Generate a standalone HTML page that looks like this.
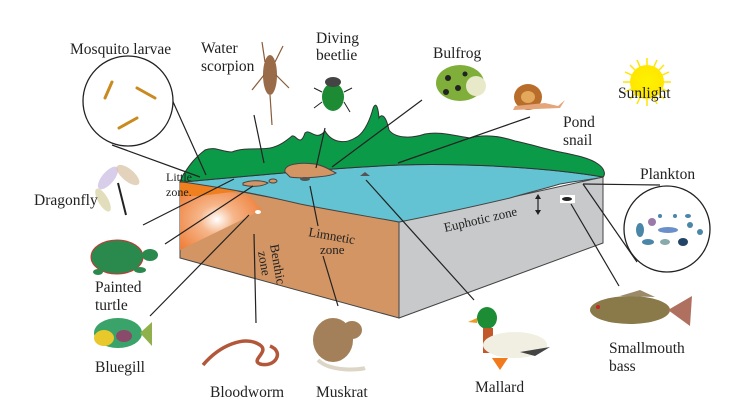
<!DOCTYPE html>
<html><head><meta charset="utf-8"><style>
html,body{margin:0;padding:0;background:#fff;}
svg{display:block;}
text{font-family:"Liberation Serif",serif;fill:#222;}
</style></head><body>
<svg width="734" height="419" viewBox="0 0 734 419" xmlns="http://www.w3.org/2000/svg">
<defs>
<radialGradient id="og" cx="0.45" cy="0.55" r="0.6">
<stop offset="0" stop-color="#fff"/><stop offset="0.35" stop-color="#f6b68a"/><stop offset="1" stop-color="#ef7f3a"/>
</radialGradient>
<radialGradient id="sun" cx="0.5" cy="0.5" r="0.5"><stop offset="0" stop-color="#fff200"/><stop offset="1" stop-color="#ffe600"/></radialGradient>
</defs>

<polygon points="180,180 399,222 399,318 180,258" fill="#d29563" stroke="#444" stroke-width="1"/>
<polygon points="180,182 250,196 262,210 180,250" fill="url(#og)"/>
<polygon points="180,180 240,191 200,196 180,196" fill="#ef7f1f"/>
<polygon points="399,222 603,177 603,243 399,318" fill="#c8c9cb" stroke="#444" stroke-width="1"/>
<path d="M183,182 C250,176 330,168 400,165 C470,163 550,168 603,177 C590,180 575,181 560,184 C540,190 530,192 510,198 C480,205 450,212 399,222 C360,215 330,210 300,204 C270,197 250,192 183,182 Z" fill="#63c3d3" stroke="#444" stroke-width="1"/>
<path d="M180,182 L183,175 C188,168 192,160 205,150 C215,146 222,152 232,152 C245,147 258,150 270,148 C280,146 287,140 292,136 C296,134 300,148 305,133 C310,128 316,142 325,131 C332,143 345,144 355,138 C362,135 368,125 372,112 C375,100 378,105 379,118 C382,113 386,116 389,130 C395,138 410,139 425,134 C440,131 455,136 470,138 C485,134 500,136 515,141 C530,144 545,149 560,152 C575,155 590,158 598,164 C604,168 606,174 603,177 C550,168 470,163 400,165 C330,168 250,176 183,182 Z" fill="#0b9a48" stroke="#333" stroke-width="1"/>
<path d="M285,172 C283,164 300,162 315,164 C325,166 330,170 336,173 C330,177 300,179 290,177 Z" fill="#d29563" stroke="#444"/>
<path d="M243,183 C250,180 262,180 268,183 C262,187 250,187 243,185 Z" fill="#d29563" stroke="#444"/>
<ellipse cx="273" cy="181" rx="4" ry="2" fill="#d29563" stroke="#444"/>
<ellipse cx="305" cy="179" rx="5" ry="2" fill="#555"/>
<path d="M360,176 L365,172 L370,176 Z" fill="#555"/>
<ellipse cx="258" cy="212" rx="3" ry="2" fill="#fff"/>
<rect x="560" y="195" width="15" height="8" fill="#fff"/><ellipse cx="567" cy="199" rx="5" ry="2" fill="#222"/>

<line x1="538" y1="195" x2="538" y2="214" stroke="#222" stroke-width="1.2"/>
<polygon points="535,199 538,194 541,199" fill="#222"/><polygon points="535,210 538,215 541,210" fill="#222"/>

<text x="166" y="181" font-size="12" fill="#333">Little</text>
<text x="166" y="196" font-size="12" fill="#333">zone.</text>
<text x="445" y="232" font-size="13" fill="#333" transform="rotate(-13 445 232)">Euphotic zone</text>
<text x="308" y="236" font-size="13" fill="#333" transform="rotate(10 308 236)">Limnetic</text>
<text x="320" y="254" font-size="13" fill="#333">zone</text>
<text x="270" y="245" font-size="13" fill="#333" transform="rotate(80 270 245)">Benthic</text>
<text x="258" y="252" font-size="13" fill="#333" transform="rotate(80 258 252)">zone</text>

<g stroke="#222" stroke-width="1.2" fill="none">
<line x1="170" y1="95" x2="206" y2="175"/>
<line x1="112" y1="145" x2="200" y2="177"/>
<line x1="254" y1="115" x2="264" y2="163"/>
<line x1="325" y1="128" x2="316" y2="168"/>
<line x1="422" y1="100" x2="332" y2="167"/>
<line x1="530" y1="117" x2="398" y2="163"/>
<line x1="143" y1="225" x2="234" y2="179"/>
<line x1="165" y1="244" x2="253" y2="186"/>
<line x1="150" y1="316" x2="249" y2="215"/>
<line x1="254" y1="234" x2="256" y2="323"/>
<line x1="310" y1="186" x2="318" y2="226"/>
<line x1="323" y1="256" x2="338" y2="306"/>
<line x1="366" y1="180" x2="474" y2="300"/>
<line x1="571" y1="204" x2="619" y2="286"/>
<line x1="583" y1="184" x2="637" y2="262"/>
<line x1="583" y1="184" x2="660" y2="185"/>
</g>

<circle cx="128" cy="101" r="45" fill="#fff" stroke="#222" stroke-width="1.3"/>
<g stroke="#c98a1f" stroke-width="3" stroke-linecap="round">
<line x1="105" y1="98" x2="112" y2="82"/><line x1="137" y1="88" x2="155" y2="98"/><line x1="119" y1="128" x2="137" y2="118"/>
</g>
<circle cx="667" cy="229" r="43" fill="#fff" stroke="#222" stroke-width="1.3"/>
<g fill="#4a86a8">
<ellipse cx="640" cy="230" rx="4" ry="7"/><ellipse cx="652" cy="222" rx="4" ry="4" fill="#9a7aa8"/><ellipse cx="668" cy="230" rx="10" ry="3" fill="#6b8fc9"/>
<ellipse cx="690" cy="225" rx="3" ry="3"/><ellipse cx="700" cy="232" rx="3" ry="3"/><ellipse cx="648" cy="242" rx="6" ry="3"/>
<ellipse cx="665" cy="242" rx="5" ry="3" fill="#8aa"/><ellipse cx="683" cy="242" rx="5" ry="4" fill="#246"/><ellipse cx="660" cy="216" rx="2" ry="2"/><ellipse cx="675" cy="216" rx="2" ry="2"/><ellipse cx="688" cy="216" rx="3" ry="2"/>
</g>

<g stroke="#ffe600" stroke-width="1.5">
<line x1="647" y1="58" x2="647" y2="106"/><line x1="623" y1="82" x2="671" y2="82"/>
<line x1="630" y1="65" x2="664" y2="99"/><line x1="664" y1="65" x2="630" y2="99"/>
<line x1="637" y1="60" x2="657" y2="104"/><line x1="657" y1="60" x2="637" y2="104"/>
<line x1="625" y1="72" x2="669" y2="92"/><line x1="625" y1="92" x2="669" y2="72"/>
</g>
<circle cx="647" cy="82" r="17" fill="url(#sun)"/>

<ellipse cx="270" cy="75" rx="7" ry="20" fill="#9a6b48"/>
<line x1="270" y1="95" x2="272" y2="125" stroke="#8a5b38" stroke-width="1.2"/>
<g stroke="#8a5b38" stroke-width="1.2"><line x1="265" y1="62" x2="262" y2="42"/><line x1="275" y1="62" x2="283" y2="46"/><line x1="264" y1="75" x2="252" y2="90"/><line x1="276" y1="75" x2="289" y2="88"/></g>
<ellipse cx="333" cy="97" rx="11" ry="14" fill="#1c8b34"/><ellipse cx="333" cy="82" rx="8" ry="5" fill="#444"/>
<g stroke="#222" stroke-width="1"><line x1="322" y1="92" x2="314" y2="88"/><line x1="344" y1="92" x2="352" y2="88"/><line x1="322" y1="102" x2="314" y2="108"/><line x1="344" y1="102" x2="350" y2="112"/></g>
<ellipse cx="460" cy="83" rx="24" ry="18" fill="#7fae3a"/><ellipse cx="476" cy="86" rx="10" ry="10" fill="#e8e9c8"/>
<g fill="#222"><circle cx="448" cy="78" r="3"/><circle cx="458" cy="88" r="3"/><circle cx="446" cy="92" r="3"/><circle cx="465" cy="74" r="2.5"/></g>
<ellipse cx="528" cy="97" rx="14" ry="13" fill="#b86d2a"/><ellipse cx="528" cy="97" rx="7" ry="6" fill="#e3a85c"/>
<path d="M513,110 L560,108 L565,100 L558,106 L545,103 L515,106 Z" fill="#e5a57a"/>
<line x1="118" y1="183" x2="126" y2="215" stroke="#222" stroke-width="2"/>
<ellipse cx="108" cy="178" rx="6" ry="14" fill="#c9b9e0" opacity="0.7" transform="rotate(40 108 178)"/>
<ellipse cx="128" cy="175" rx="6" ry="14" fill="#d8c0a0" opacity="0.7" transform="rotate(-50 128 175)"/>
<ellipse cx="103" cy="200" rx="5" ry="13" fill="#d6d0a0" opacity="0.7" transform="rotate(-30 103 200)"/>
<ellipse cx="117" cy="257" rx="26" ry="17" fill="#2a8a4e" stroke="#c33" stroke-width="1"/>
<ellipse cx="150" cy="255" rx="8" ry="6" fill="#2a8a4e"/>
<ellipse cx="98" cy="272" rx="5" ry="3" fill="#2a8a4e"/><ellipse cx="140" cy="270" rx="6" ry="3" fill="#2a8a4e"/>
<ellipse cx="118" cy="333" rx="24" ry="15" fill="#3aa36a"/><ellipse cx="104" cy="338" rx="10" ry="8" fill="#e8c82a"/>
<polygon points="140,333 152,322 152,346" fill="#8fb04a"/><ellipse cx="124" cy="336" rx="8" ry="6" fill="#8a4a6a"/>
<path d="M203,365 C220,345 245,335 260,345 C270,352 250,360 260,364 C275,368 285,352 270,346" fill="none" stroke="#b3573a" stroke-width="3.5"/>
<ellipse cx="333" cy="340" rx="20" ry="22" fill="#a4805a"/><ellipse cx="352" cy="330" rx="10" ry="9" fill="#a4805a"/>
<path d="M318,360 C330,372 360,370 365,368" fill="none" stroke="#ddd6c6" stroke-width="4"/>
<ellipse cx="487" cy="318" rx="10" ry="11" fill="#1c8d34"/><polygon points="477,318 468,322 477,323" fill="#f09a1c"/>
<rect x="483" y="328" width="10" height="25" fill="#c2582a"/>
<ellipse cx="515" cy="345" rx="32" ry="13" fill="#f0efe2"/><polygon points="520,352 550,347 535,356" fill="#444"/>
<polygon points="492,358 500,370 508,358" fill="#f07a1c"/>
<ellipse cx="630" cy="310" rx="40" ry="14" fill="#8a7a4a"/>
<polygon points="668,310 692,296 690,326" fill="#b07060"/>
<polygon points="620,296 640,290 655,297" fill="#9a8a6a"/>
<circle cx="598" cy="307" r="2" fill="#c22"/>

<g font-size="15.5">
<text x="70" y="54">Mosquito larvae</text>
<text x="201" y="53">Water</text><text x="201" y="71">scorpion</text>
<text x="316" y="43">Diving</text><text x="316" y="60">beetlie</text>
<text x="433" y="58">Bulfrog</text>
<text x="618" y="98">Sunlight</text>
<text x="563" y="127">Pond</text><text x="563" y="145">snail</text>
<text x="640" y="179">Plankton</text>
<text x="34" y="205">Dragonfly</text>
<text x="95" y="292">Painted</text><text x="95" y="310">turtle</text>
<text x="95" y="372">Bluegill</text>
<text x="210" y="397">Bloodworm</text>
<text x="316" y="397">Muskrat</text>
<text x="475" y="392">Mallard</text>
<text x="609" y="353">Smallmouth</text><text x="609" y="371">bass</text>
</g>
</svg>
</body></html>
